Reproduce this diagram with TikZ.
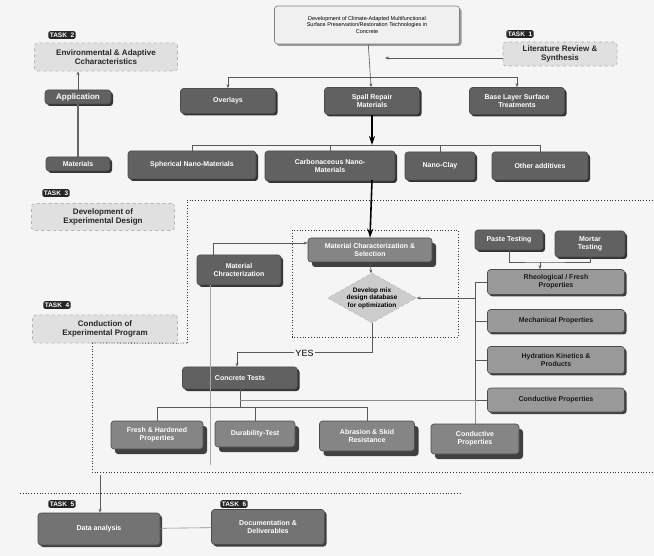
\documentclass[tikz,border=0pt]{standalone}
\usepackage{fontspec}
\setmainfont{Liberation Sans}
\usetikzlibrary{shapes.geometric,shadows,arrows.meta}
\begin{document}
\begin{tikzpicture}[x=1pt,y=-1pt,
 base/.style={rectangle,rounded corners=3pt,draw=black!70,line width=0.6pt,align=center,font=\fontsize{7}{8}\selectfont\bfseries,inner sep=1pt},
 dark/.style={base,fill=black!62,text=white,drop shadow={shadow xshift=2pt,shadow yshift=-2pt,fill=black!80,opacity=1}},
 mid/.style={base,fill=black!40,text=black!90,drop shadow={shadow xshift=2pt,shadow yshift=-2pt,fill=black!75,opacity=1}},
 midw/.style={base,fill=black!48,text=white,drop shadow={shadow xshift=4pt,shadow yshift=-5pt,fill=black!75,opacity=1}},
 light/.style={base,fill=black!12,draw=black!30,dashed,text=black!85,font=\fontsize{8}{9}\selectfont\bfseries},
 tag/.style={rectangle,rounded corners=2pt,fill=black!85,text=white,font=\fontsize{6.5}{7}\selectfont\bfseries,inner sep=1.5pt},
 ln/.style={draw=black!65,line width=0.6pt},
 arr/.style={ln,-{Stealth[length=4pt]}},
 dot/.style={draw=black!80,line width=0.8pt,dotted}]
\useasboundingbox (0,0) rectangle (654,556);
\fill[black!4] (0,0) rectangle (654,556);
\newcommand\bx[7]{\node[#6,minimum width=#4pt,minimum height=#5pt] (#1) at (#2,#3) {#7};}
% title and tasks
\node[base,fill=black!6,draw=black!50,minimum width=185pt,minimum height=38pt,font=\fontsize{5.5}{6.5}\selectfont,drop shadow={shadow xshift=2pt,shadow yshift=-2pt,fill=black!40,opacity=1}] (title) at (367,25) {Development of Climate-Adapted Multifunctional\\Surface Preservation/Restoration Technologies in\\Concrete};
\node[tag] (t1) at (520,34) {TASK \;1};
\bx{lit}{560}{54}{114}{24}{light}{Literature Review \&\\Synthesis}
\node[tag] (t2) at (62,35) {TASK \;2};
\bx{env}{106}{57}{143}{28}{light}{Environmental \& Adaptive\\Ccharacteristics}
\bx{app}{78}{97}{66}{14}{dark,font=\fontsize{8}{9}\selectfont\bfseries}{Application}
\bx{matl}{78}{164}{64}{14}{dark}{Materials}
\draw[black!60,line width=1.2pt] (matl.north) -- (app.south);
\draw[arr] (app.north) -- (app.north|-env.south);
\coordinate (la) at (385,58);
\draw[arr] (lit.west|-la) -- (la);
% level 1
\bx{ov}{228}{101}{95}{25}{dark}{Overlays}
\bx{sp}{372}{101}{95}{27}{dark}{Spall Repair\\Materials}
\bx{bl}{517}{101}{95}{27}{dark}{Base Layer Surface\\Treatments}
\coordinate (h1) at (0,77);
\draw[arr] (title) -- (sp);
\draw[arr] (ov.north|-h1) -- (bl.north|-h1) -- (bl.north);
\draw[arr] (ov.north|-h1) -- (ov.north);
% level 2
\bx{sph}{192}{165}{128}{28}{dark}{Spherical Nano-Materials}
\bx{car}{330}{166}{130}{30}{dark}{Carbonaceous Nano-\\Materials}
\bx{nc}{440}{166}{70}{28}{dark}{Nano-Clay}
\bx{oa}{540}{166}{96}{28}{dark}{Other additives}
\coordinate (h2) at (0,145);
\draw[-{Stealth[length=9pt,width=6pt]},line width=1.6pt] (sp) -- (sp.south|-h2);
\draw[ln] (sph.north|-h2) -- (oa.north|-h2);
\foreach \n in {sph,car,nc,oa} \draw[ln] (\n.north|-h2) -- (\n.north);
% task 3/4
\node[tag] (t3) at (56,193) {TASK \;3};
\bx{ded}{103}{217}{143}{27}{light}{Development of\\Experimental Design}
\node[tag] (t4) at (57,305) {TASK \;4};
\bx{cep}{105}{329}{145}{28}{light}{Conduction of\\Experimental Program}
\draw[dot] (187,343) -- (187,200) -- (654,200);
\draw[dot] (cep.south east) -- (187,343);
\draw[dot] (92,343) -- (92,472) -- (654,472);
\draw[dot] (92,343) -- (cep.south east);
% inner
\draw[dot] (292,230) rectangle (458,337);
\bx{mcs}{370}{250}{124}{24}{midw,text=white}{Material Characterization \&\\Selection}
\draw[-{Stealth[length=9pt,width=6pt]},line width=1.6pt] (372,180) -- (mcs.north);
\bx{mch}{239}{270}{84}{30}{dark}{Material\\Chracterization}
\node[diamond,fill=black!20,draw=black!30,dashed,aspect=1.8,inner sep=0pt,minimum width=86pt,minimum height=50pt,align=center,font=\fontsize{6.5}{7.5}\selectfont\bfseries] (dm) at (372,298) {Develop mix\\design database\\for optimization};
\draw[arr] (mcs) -- (dm);
\coordinate (mc1) at (213,243);
\draw[arr] (mc1|-mch.north) -- (mc1) -- (mcs.west|-mc1);
% right column
\bx{pt}{509}{240}{68}{20}{dark}{Paste Testing}
\bx{mt}{590}{244}{70}{26}{dark}{Mortar\\Testing}
\bx{rh}{556}{282}{137}{25}{mid}{Rheological / Fresh\\Properties}
\bx{mp}{556}{321}{137}{23}{mid}{Mechanical Properties}
\bx{hk}{556}{360}{137}{27}{mid}{Hydration Kinetics \&\\Products}
\bx{cp}{556}{400}{137}{24}{mid}{Conductive Properties}
\coordinate (j1) at (540,262);
\draw[ln] (pt.south) |- (j1) -| (mt.south);
\draw[arr] (j1) -- (rh.north-|j1);
\coordinate (vx) at (475,0);
\draw[ln] (rh.west) -- (vx|-rh.west) -- (vx|-cp.west) -- (cp.west);
\foreach \n in {mp,hk} \draw[ln] (vx|-\n.west) -- (\n.west);
\draw[arr] (vx|-dm.east) -- (dm.east);
% concrete tests
\bx{ct}{240}{378}{115}{22}{dark}{Concrete Tests}
\draw[ln,black!35] (210,285) -- (210,465);
\draw[arr,line width=1pt] (dm.south) -- (372,353) -- node[fill=black!4,font=\fontsize{9}{10}\selectfont,inner sep=1pt,pos=0.5]{YES} (237,353) -- (ct.north-|237,0);
\bx{fh}{157}{435}{92}{28}{midw}{Fresh \& Hardened\\Properties}
\bx{dt}{255}{434}{80}{26}{midw}{Durability-Test}
\bx{ab}{367}{436}{95}{30}{midw}{Abrasion \& Skid\\Resistance}
\bx{cop}{475}{439}{88}{30}{midw}{Conductive\\Properties}
\coordinate (h3) at (0,407);
\draw[ln] (ct.south) -- (ct.south|-h3);
\draw[ln] (fh.north|-h3) -- (ab.north|-h3);
\foreach \n in {fh,dt,ab} \draw[ln] (\n.north|-h3) -- (\n.north);
\coordinate (h4) at (0,400);
\draw[ln,black!45] (ct.south|-h4) -- (cop.north|-h4) -- (cop.north);
% bottom
\draw[dot] (20,493) -- (460,493);
\coordinate (a5) at (100,475);
\bx{da}{99}{529}{122}{32}{mid,text=white,fill=black!55}{Data analysis}
\bx{doc}{268}{527}{113}{35}{mid,text=white,fill=black!55}{Documentation \&\\Deliverables}
\draw[arr,line width=1pt] (a5) -- (a5|-da.north);
\node[tag] (t5) at (62,504) {TASK \;5};
\node[tag] (t6) at (234,504) {TASK \;6};
\draw[ln,black!45] (da) -- (doc);
\end{tikzpicture}
\end{document}
